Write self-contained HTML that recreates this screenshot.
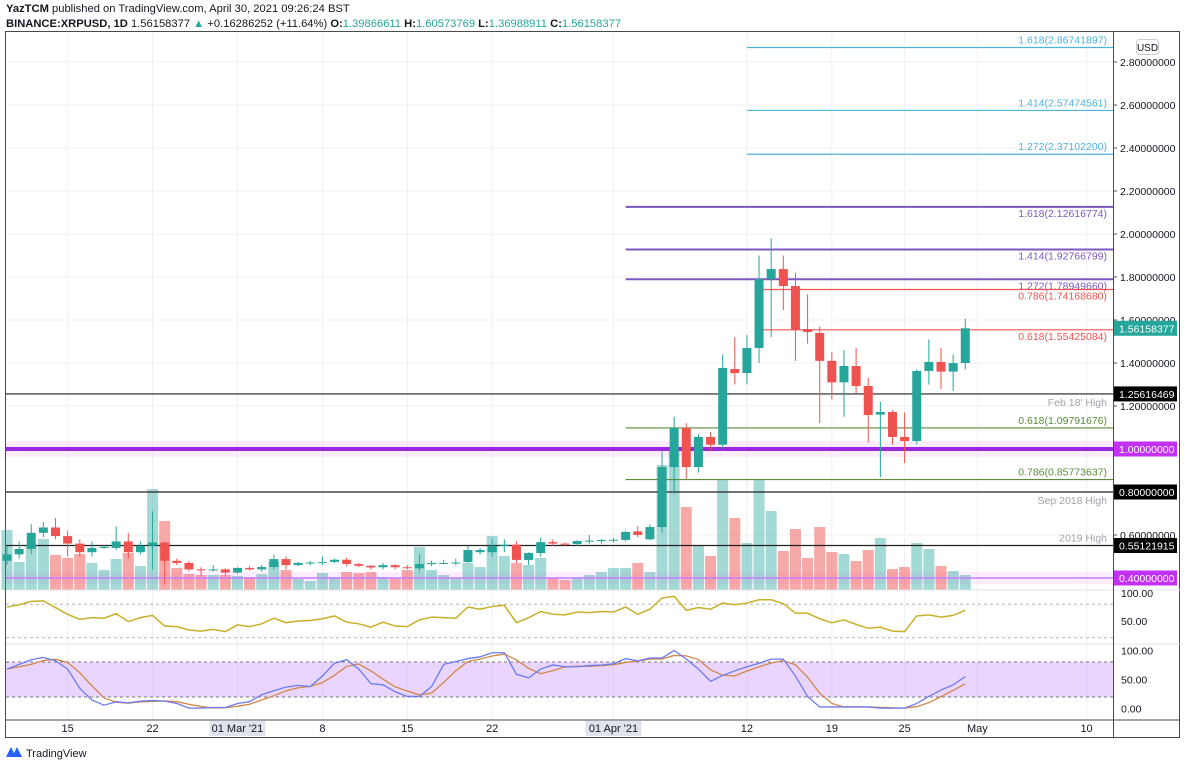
<!DOCTYPE html>
<html><head><meta charset="utf-8">
<style>
html,body{margin:0;padding:0;background:#fff;width:1186px;height:768px;overflow:hidden;font-family:"Liberation Sans",sans-serif;}
.hdr{position:absolute;left:6px;font-size:11.2px;color:#131722;white-space:nowrap;}
.g{color:#26a69a}
</style></head>
<body>
<div class="hdr" style="top:3px"><b>YazTCM</b> published on TradingView.com, April 30, 2021 09:26:24 BST</div>
<div class="hdr" style="top:18px"><b>BINANCE:XRPUSD, 1D</b> 1.56158377 <span class="g">▲</span> +0.16286252 (+11.64%) <b>O:</b><span class="g">1.39866611</span> <b>H:</b><span class="g">1.60573769</span> <b>L:</b><span class="g">1.36988911</span> <b>C:</b><span class="g">1.56158377</span></div>
<svg id="chart" width="1186" height="768" style="position:absolute;left:0;top:0" font-family="Liberation Sans, sans-serif">
</svg>
<script>
const opens=[.48,.51,.535,.61,.635,.595,.56,.52,.54,.54,.57,.52,.55,.565,.48,.47,.44,.435,.44,.425,.447,.44,.451,.488,.46,.47,.472,.475,.485,.465,.457,.45,.46,.45,.445,.465,.47,.47,.474,.52,.52,.55,.555,.484,.516,.567,.56,.558,.572,.572,.575,.577,.617,.58,.637,.916,1.098,.916,1.056,1.02,1.372,1.353,1.47,1.79,1.837,1.758,1.558,1.54,1.41,1.31,1.386,1.293,1.16,1.172,1.056,1.037,1.363,1.405,1.36,1.40];
const highs=[.55,.57,.65,.66,.68,.62,.58,.57,.55,.64,.61,.57,.71,.57,.49,.48,.45,.46,.445,.45,.455,.46,.51,.50,.475,.48,.50,.49,.495,.47,.46,.47,.465,.46,.51,.48,.485,.49,.55,.54,.58,.58,.57,.52,.59,.58,.565,.575,.60,.58,.585,.62,.64,.65,.99,1.15,1.12,1.07,1.08,1.44,1.52,1.53,1.90,1.98,1.90,1.82,1.72,1.57,1.45,1.46,1.47,1.33,1.22,1.18,1.17,1.37,1.51,1.47,1.44,1.606];
const lows=[.46,.49,.51,.59,.58,.50,.50,.50,.535,.53,.49,.51,.44,.37,.46,.43,.41,.43,.41,.42,.435,.43,.44,.44,.455,.46,.46,.47,.455,.45,.44,.44,.44,.44,.43,.455,.465,.46,.47,.51,.50,.52,.47,.46,.50,.55,.55,.55,.56,.56,.565,.57,.59,.575,.61,.79,.86,.89,.99,1.00,1.30,1.30,1.40,1.52,1.646,1.41,1.49,1.12,1.23,1.15,1.26,1.03,.87,1.02,.935,1.02,1.30,1.28,1.27,1.37];
const closes=[.51,.535,.61,.635,.595,.56,.52,.54,.545,.57,.52,.55,.565,.48,.47,.44,.435,.44,.425,.447,.44,.451,.488,.46,.47,.472,.474,.485,.465,.457,.449,.46,.45,.447,.465,.47,.47,.472,.53,.53,.55,.555,.484,.516,.567,.56,.555,.572,.574,.577,.578,.614,.60,.637,.916,1.098,.916,1.056,1.02,1.377,1.353,1.47,1.79,1.837,1.758,1.553,1.544,1.41,1.31,1.386,1.293,1.158,1.172,1.056,1.037,1.363,1.405,1.36,1.40,1.5616];
const volumes=[600,280,450,510,350,320,360,270,200,310,370,240,1010,690,220,160,150,150,150,140,130,160,280,200,110,90,170,130,180,170,180,130,120,200,430,200,150,120,270,230,540,340,270,250,320,120,100,130,150,180,220,220,270,180,1250,1400,830,440,340,1110,720,470,1110,790,390,610,320,630,380,360,290,400,520,210,230,470,410,240,190,150];
const rsiValues=[75,79,85,86,74,62,53,56,55,63,49,56,60,41,40,34,32,35,31,43,40,45,55,47,50,51,54,59,48,45,39,48,41,40,52,57,56,55,75,71,76,78,47,56,67,62,61,66,65,67,66,75,62,71,91,94,69,74,71,82,79,82,88,88,81,64,64,54,47,52,44,37,39,32,31,59,61,57,60,69];
const stochK=[68,76,84,88,82,68,35,15,6,12,10,13,14,13,9,1,1,2,2,9,12,24,31,37,40,38,56,78,84,68,43,41,29,21,21,38,76,81,86,89,96,96,59,53,68,75,72,72,74,75,77,86,82,87,87,100,85,68,47,57,65,72,78,85,85,56,21,3,3,3,3,3,1,1,1,9,21,32,41,55];
const priceTicks=[2.8,2.6,2.4,2.2,2.0,1.8,1.6,1.4,1.2,0.8,0.6];
const timeLabels=["15","22","01 Mar '21","8","15","22","01 Apr '21","12","19","25","May","10"];
const timeDayIdx=[5,12,19,26,33,40,50,61,68,74,80,89];
const fibLevels=[2.86741897,2.57474561,2.37102200,2.12616774,1.92766799,1.78949660,1.74168680,1.55425084,1.09791676,0.85773637];
const fibNames=["1.618","1.414","1.272","1.618","1.414","1.272","0.786","0.618","0.618","0.786"];
const fibStart=[61,61,61,51,51,51,62,62,51,51];
const fibColors=["#4fb3e0","#4fb3e0","#4fb3e0","#7e57c2","#7e57c2","#7e57c2","#ef5350","#ef5350","#5b8c3a","#5b8c3a"];
const fibLabelAbove=[1,1,1,0,0,0,0,0,1,1];
const hLines=[1.25616469,0.8,0.55121915];
const hNotes=["Feb 18' High","Sep 2018 High","2019 High"];
const hNoteAbove=[0,0,1];

const svg=document.getElementById('chart');
const NS='http://www.w3.org/2000/svg';
function mk(tag,attrs,parent){const e=document.createElementNS(NS,tag);for(const k in attrs)e.setAttribute(k,attrs[k]);(parent||svg).appendChild(e);return e;}
const X=i=>7+12.13*i;
const Y=p=>449-(p-1)*215;
const VY=v=>590-v/10;
const RY=v=>621-(v-50)*0.56;
const SY=v=>708.7-v*0.583;
const AX=1113;

let e=mk('rect',{x:5.5,y:31.5,width:1174,height:706,fill:'none',stroke:'#4a4a4a','stroke-width':1});


timeDayIdx.forEach((d,k)=>{const g=mk('line',{x1:X(d),x2:X(d),y1:32,y2:720,stroke:'#eef0f4','stroke-width':1});

});
priceTicks.forEach(p=>{const g=mk('line',{x1:6,x2:AX,y1:Y(p),y2:Y(p),stroke:'#f0f2f6','stroke-width':1});

});
[[1.0,16],[0.4,12]].forEach(b=>{const r=mk('rect',{x:6,y:Y(b[0])-b[1]/2,width:AX-6,height:b[1],fill:'rgba(255,0,255,0.07)'});

});
volumes.forEach((v,i)=>{const up=closes[i]>=opens[i];
const r=mk('rect',{x:X(i)-5.5,y:VY(v),width:11,height:590-VY(v),fill:up?'rgba(38,166,154,0.42)':'rgba(239,83,80,0.5)'});

});
fibLevels.forEach((p,k)=>{const y=Y(p);
const l=mk('line',{x1:X(fibStart[k]),x2:AX,y1:y,y2:y,stroke:fibColors[k],'stroke-width':k>=3&&k<=5?2:1.2});


const t=mk('text',{x:1107,y:fibLabelAbove[k]?y-4:y+10,'text-anchor':'end','font-size':10.5,fill:fibColors[k]});
t.textContent=fibNames[k]+'('+p.toFixed(8)+')';

});
hLines.forEach((p,k)=>{const y=Y(p);
const l=mk('line',{x1:6,x2:AX,y1:y,y2:y,stroke:'#222','stroke-width':1.2});


const t=mk('text',{x:1107,y:hNoteAbove[k]?y-4:y+12,'text-anchor':'end','font-size':10.5,fill:'#a0a3ab'});
t.textContent=hNotes[k];

});
e=mk('line',{x1:6,x2:AX,y1:Y(1),y2:Y(1),stroke:'#9c27e0','stroke-width':4});


e=mk('line',{x1:6,x2:AX,y1:Y(0.4),y2:Y(0.4),stroke:'#c77dff','stroke-width':1.5});


opens.forEach((o,i)=>{const c=closes[i];const up=c>=o;const col=up?'#26a69a':'#ef5350';const x=X(i);
const w=mk('line',{x1:x,x2:x,y1:Y(highs[i]),y2:Y(lows[i]),stroke:col,'stroke-width':1});


const top=Y(Math.max(o,c)),bot=Y(Math.min(o,c));
const b=mk('rect',{x:x-4.5,y:top,width:9,height:Math.max(1,bot-top),fill:col});

});
[[590],[644],[720]].forEach(s=>{const l=mk('line',{x1:6,x2:1180,y1:s[0],y2:s[0],stroke:s[0]==720?'#4a4a4a':'#e0e3eb','stroke-width':1});

});
e=mk('line',{x1:AX+0.5,x2:AX+0.5,y1:32,y2:738,stroke:'#4a4a4a','stroke-width':1});


[80,20].forEach(v=>{const l=mk('line',{x1:6,x2:AX,y1:RY(v),y2:RY(v),stroke:'#b2b5be','stroke-dasharray':'3,3'});

});
e=mk('polyline',{points:rsiValues.map((v,i)=>X(i)+','+RY(v)).join(' '),fill:'none',stroke:'#c8b02a','stroke-width':1.5});


e=mk('rect',{x:6,y:SY(80),width:AX-6,height:SY(20)-SY(80),fill:'rgba(200,150,255,0.4)'});


[80,20].forEach(v=>{const l=mk('line',{x1:6,x2:AX,y1:SY(v),y2:SY(v),stroke:'#777','stroke-dasharray':'3,3'});

});
const stochD=stochK.map((v,i)=>{const s=stochK.slice(Math.max(0,i-2),i+1);return s.reduce((a,b)=>a+b,0)/s.length;});
e=mk('polyline',{points:stochD.map((v,i)=>X(i)+','+SY(v)).join(' '),fill:'none',stroke:'#d2874a','stroke-width':1.3});


e=mk('polyline',{points:stochK.map((v,i)=>X(i)+','+SY(v)).join(' '),fill:'none',stroke:'#6b7bf0','stroke-width':1.3});


priceTicks.forEach(p=>{const t=mk('text',{x:1120,y:Y(p)+4,'font-size':10.5,fill:'#131722'});t.textContent=p.toFixed(8);


const k=mk('line',{x1:AX,x2:AX+4,y1:Y(p),y2:Y(p),stroke:'#555'});

});
[[100,RY],[50,RY],[100,SY],[50,SY],[0,SY]].forEach(a=>{const t=mk('text',{x:1121,y:a[1](a[0])+4,'font-size':10.5,fill:'#131722'});t.textContent=a[0].toFixed(2);

});
const tagVals=[1.56158377,1.25616469,1.0,0.8,0.55121915,0.4];
const tagCols=['#26a69a','#000','#c331f5','#000','#000','#c331f5'];
tagVals.forEach((p,k)=>{const y=Y(p);
const r=mk('rect',{x:AX+1,y:y-7.5,width:63,height:15,fill:tagCols[k]});


const t=mk('text',{x:1119,y:y+4,'font-size':10.5,fill:'#fff'});t.textContent=p.toFixed(8);

});
e=mk('rect',{x:1136.5,y:39.5,width:22,height:15,rx:3,fill:'#fff',stroke:'#ccc'});


e=mk('text',{x:1147.5,y:51,'text-anchor':'middle','font-size':10,fill:'#131722'});e.textContent='USD';


timeLabels.forEach((s,k)=>{const x=X(timeDayIdx[k]);
if(s.indexOf("'")>0){const r=mk('rect',{x:x-28,y:721,width:56,height:15,fill:'#e0e3eb'});

}
const t=mk('text',{x:x,y:732,'text-anchor':'middle','font-size':11,fill:'#131722'});t.textContent=s;

});
e=mk('path',{d:'M6 757 L11 747 L14 753 L17 747 L22 757 Z',fill:'#2962ff'});


e=mk('text',{x:26,y:757,'font-size':11,fill:'#131722'});e.textContent='TradingView';


</script>
</body></html>
